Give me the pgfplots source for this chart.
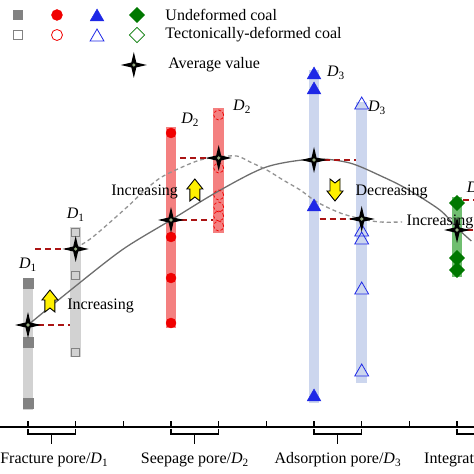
\documentclass[border=0pt]{standalone}
\usepackage{fontspec}
\setmainfont{Liberation Serif}
\usepackage{pgfplots}
\pgfplotsset{compat=1.18}

\definecolor{barGray}{RGB}{210,210,210}
\definecolor{markGray}{RGB}{130,130,130}
\definecolor{barRed}{RGB}{244,128,128}
\definecolor{markRed}{RGB}{240,0,0}
\definecolor{barBlue}{RGB}{204,214,238}
\definecolor{markBlue}{RGB}{30,40,230}
\definecolor{barGreen}{RGB}{112,190,112}
\definecolor{markGreen}{RGB}{0,120,0}
\definecolor{avgRed}{RGB}{170,20,20}
\definecolor{curveGray}{RGB}{110,110,110}
\definecolor{starCore}{RGB}{150,170,130}
\definecolor{arrowYellow}{RGB}{255,240,0}

% four-pointed star for the average values
\pgfdeclareplotmark{sparkle}{%
  \pgfsetfillcolor{black}%
  \pgfpathmoveto{\pgfqpoint{0pt}{\pgfplotmarksize}}%
  \pgfpathlineto{\pgfqpoint{0.19\pgfplotmarksize}{0.19\pgfplotmarksize}}%
  \pgfpathlineto{\pgfqpoint{\pgfplotmarksize}{0pt}}%
  \pgfpathlineto{\pgfqpoint{0.19\pgfplotmarksize}{-0.19\pgfplotmarksize}}%
  \pgfpathlineto{\pgfqpoint{0pt}{-\pgfplotmarksize}}%
  \pgfpathlineto{\pgfqpoint{-0.19\pgfplotmarksize}{-0.19\pgfplotmarksize}}%
  \pgfpathlineto{\pgfqpoint{-\pgfplotmarksize}{0pt}}%
  \pgfpathlineto{\pgfqpoint{-0.19\pgfplotmarksize}{0.19\pgfplotmarksize}}%
  \pgfpathclose
  \pgfusepathqfill
  \pgfsetfillcolor{starCore}%
  \pgfpathcircle{\pgfpointorigin}{0.14\pgfplotmarksize}%
  \pgfusepathqfill
}

\begin{document}
\begin{tikzpicture}[font=\fontsize{16bp}{19bp}\selectfont,
    trend/.style={draw=black, fill=arrowYellow, line width=0.9bp, line join=miter}]
\begin{axis}[
    name=ax,
    scale only axis,
    width=474bp, height=474bp,
    xmin=0.4126, xmax=10.356,
    ymin=-47, ymax=427,
    hide axis, clip=false,
    bar/.style={line width=10.5bp, mark=none, line cap=butt, forget plot},
    avg/.style={only marks, mark=sparkle, mark size=13bp, black},
    level/.style={avgRed, mark=none, line width=1.3bp, dash pattern=on 6bp off 4bp},
]

% ranges of the measured values
\addplot[bar, barGray]  coordinates {(1,17) (1,149)};
\addplot[bar, barGray]  coordinates {(2,70) (2,200)};
\addplot[bar, barRed]   coordinates {(4,99) (4,300)};
\addplot[bar, barRed]   coordinates {(5,194) (5,319)};
\addplot[bar, barBlue]  coordinates {(7,24) (7,357)};
\addplot[bar, barBlue]  coordinates {(8,44) (8,325)};
\addplot[bar, barGreen] coordinates {(10,150) (10,230)};

% trend of the averages
\addplot[curveGray, line width=1.3bp, smooth, mark=none] coordinates {
    (1,102) (2,141) (3,178) (4,207) (5,236) (6,260) (7,268)
    (7.75,264) (8.45,250) (8.95,238) (9.64,217) (10,199) (10.3,186)};
\addplot[gray!85, line width=1.3bp, smooth, mark=none, dash pattern=on 4bp off 3bp] coordinates {
    (2,179) (2.36,190) (3.08,220) (3.41,235) (3.77,249) (4.19,259) (4.61,267)
    (5,270) (5.38,271) (5.66,265) (6.01,257) (6.35,247) (6.71,237) (7.06,225)
    (7.55,214) (8,208) (8.38,205) (8.85,205)};

% average levels
\addplot[level] coordinates {(1,102) (1.88,102)};
\addplot[level] coordinates {(1.15,178) (2,178)};
\addplot[level] coordinates {(4,207) (4.88,207)};
\addplot[level] coordinates {(4.19,269) (5,269)};
\addplot[level] coordinates {(7,267) (7.88,267)};
\addplot[level] coordinates {(7.12,208) (8,208)};
\addplot[level] coordinates {(10,197) (10.8,197)};
\addplot[level] coordinates {(10.13,227) (11,227)};

% undeformed coal
\addplot[only marks, mark=square*, mark size=5bp, markGray] coordinates {(1,144) (1,85) (1,24)};
\addplot[only marks, mark=*, mark size=5bp, markRed] coordinates {(4,294) (4,190) (4,149) (4,104)};
\addplot[only marks, mark=triangle*, mark size=8bp, markBlue] coordinates {(7,352) (7,337) (7,220) (7,30)};
\addplot[only marks, mark=square*, mark size=5.4bp, markGreen, mark options={rotate=45}] coordinates {(10,224) (10,169) (10,157)};

% tectonically-deformed coal
\addplot[only marks, mark=square, mark size=4bp, markGray, mark options={line width=0.8bp}] coordinates {(2,195) (2,152) (2,75)};
\addplot[only marks, mark=o, mark size=5bp, markRed, mark options={densely dashed, line width=0.7bp}] coordinates {(5,312) (5,259) (5,232) (5,220) (5,211) (5,201)};
\addplot[only marks, mark=triangle, mark size=8bp, markBlue, mark options={line width=0.8bp}] coordinates {(8,322) (8,195) (8,187) (8,137) (8,55)};

% averages
\addplot[avg] coordinates {(1,102) (2,178) (4,207) (5,269) (7,267) (8,208) (10,197)};

% legend
\addplot[only marks, mark=square*, mark size=4.5bp, markGray] coordinates {(0.79,412)};
\addplot[only marks, mark=*, mark size=5.5bp, markRed] coordinates {(1.608,412)};
\addplot[only marks, mark=triangle*, mark size=8bp, markBlue] coordinates {(2.448,410)};
\addplot[only marks, mark=square*, mark size=5.4bp, markGreen, mark options={rotate=45}] coordinates {(3.287,412)};
\addplot[only marks, mark=square, mark size=4.5bp, markGray, mark options={line width=0.8bp}] coordinates {(0.79,392)};
\addplot[only marks, mark=o, mark size=5.5bp, markRed, mark options={line width=0.8bp}] coordinates {(1.608,392)};
\addplot[only marks, mark=triangle, mark size=8bp, markBlue, mark options={line width=0.8bp}] coordinates {(2.448,390)};
\addplot[only marks, mark=square, mark size=5.4bp, markGreen, mark options={rotate=45, line width=0.8bp}] coordinates {(3.287,392)};
\addplot[avg] coordinates {(3.22,362)};
\node[anchor=west] at (axis cs:3.81,412) {Undeformed coal};
\node[anchor=west] at (axis cs:3.81,392) {Tectonically-deformed coal};
\node[anchor=west] at (axis cs:3.87,362) {Average value};

% range labels
\node at (axis cs:1,162) {\textit{D}\textsubscript{1}};
\node at (axis cs:2,212) {\textit{D}\textsubscript{1}};
\node at (axis cs:4.40,307) {\textit{D}\textsubscript{2}};
\node at (axis cs:5.49,320) {\textit{D}\textsubscript{2}};
\node at (axis cs:7.46,354) {\textit{D}\textsubscript{3}};
\node at (axis cs:8.32,319) {\textit{D}\textsubscript{3}};
\node[anchor=west] at (axis cs:10.13,240) {\textit{D}};

% anchors of the trend arrows
\coordinate (up1) at (axis cs:1.46,126);
\coordinate (up2) at (axis cs:4.50,237);
\coordinate (down3) at (axis cs:7.44,237);
\node[anchor=west] at (axis cs:1.75,121) {Increasing};
\node[anchor=east] at (axis cs:4.22,235) {Increasing};
\node[anchor=west] at (axis cs:7.80,235) {Decreasing};
\node[anchor=west] at (axis cs:8.87,205) {Increasing};

% category axis
\draw[line width=1.2bp] (axis cs:0.41,0) -- (axis cs:10.36,0);
\draw[line width=1.2bp]
    (axis cs:1,0) -- (axis cs:1,6) (axis cs:2,0) -- (axis cs:2,6)
    (axis cs:3,0) -- (axis cs:3,6) (axis cs:4,0) -- (axis cs:4,6)
    (axis cs:5,0) -- (axis cs:5,6) (axis cs:6,0) -- (axis cs:6,6)
    (axis cs:7,0) -- (axis cs:7,6) (axis cs:8,0) -- (axis cs:8,6)
    (axis cs:9,0) -- (axis cs:9,6) (axis cs:10,0) -- (axis cs:10,6);
\draw[line width=1.2bp]
    (axis cs:1,-2.5) -- (axis cs:1,-7) -- (axis cs:2,-7) -- (axis cs:2,-2.5) (axis cs:1.5,-7) -- (axis cs:1.5,-17)
    (axis cs:4,-2.5) -- (axis cs:4,-7) -- (axis cs:5,-7) -- (axis cs:5,-2.5) (axis cs:4.5,-7) -- (axis cs:4.5,-17)
    (axis cs:7,-2.5) -- (axis cs:7,-7) -- (axis cs:8,-7) -- (axis cs:8,-2.5) (axis cs:7.5,-7) -- (axis cs:7.5,-17)
    (axis cs:10,-2.5) -- (axis cs:10,-7) -- (axis cs:11,-7) -- (axis cs:11,-2.5) (axis cs:10.5,-7) -- (axis cs:10.5,-17);
\node at (axis cs:1.55,-33) {Fracture pore/\textit{D}\textsubscript{1}};
\node at (axis cs:4.5,-33) {Seepage pore/\textit{D}\textsubscript{2}};
\node at (axis cs:7.5,-33) {Adsorption pore/\textit{D}\textsubscript{3}};
\node at (axis cs:10.5,-33) {Integrated pore/\textit{D}};

\end{axis}

% block arrows with a notched tail
\draw[trend] (up1) ++(-5bp,-11bp) -- ++(5bp,4bp) -- ++(5bp,-4bp) -- ++(0bp,12bp)
    -- ++(3bp,0bp) -- ++(-8bp,10bp) -- ++(-8bp,-10bp) -- ++(3bp,0bp) -- cycle;
\draw[trend] (up2) ++(-5bp,-11bp) -- ++(5bp,4bp) -- ++(5bp,-4bp) -- ++(0bp,12bp)
    -- ++(3bp,0bp) -- ++(-8bp,10bp) -- ++(-8bp,-10bp) -- ++(3bp,0bp) -- cycle;
\draw[trend] (down3) ++(-5bp,11bp) -- ++(5bp,-4bp) -- ++(5bp,4bp) -- ++(0bp,-12bp)
    -- ++(3bp,0bp) -- ++(-8bp,-10bp) -- ++(-8bp,10bp) -- ++(3bp,0bp) -- cycle;

\pgfresetboundingbox
\useasboundingbox (ax.south west) rectangle (ax.north east);
\end{tikzpicture}
\end{document}
